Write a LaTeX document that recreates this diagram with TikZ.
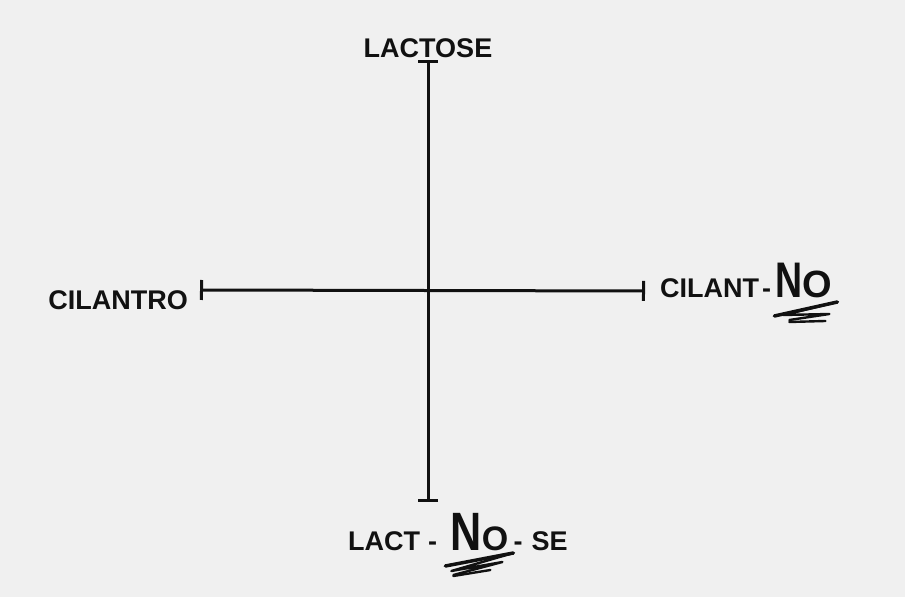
\documentclass[tikz,border=0pt]{standalone}
\usepackage{fontspec}
\setmainfont{Liberation Sans}
\usetikzlibrary{positioning,arrows.meta,calc}
\definecolor{paper}{HTML}{F0F0F0}
\definecolor{ink}{HTML}{111111}

\begin{document}
\begin{tikzpicture}[x=1pt,y=1pt,
  axis/.style={ink,line width=3pt,{Bar[width=20pt,line width=3pt]}-{Bar[width=20pt,line width=3pt]}},
  lbl/.style={ink,inner sep=0pt,font=\bfseries\fontsize{27}{32}\selectfont},
  scrib/.style={ink,line cap=round,line join=round}]
  \fill[paper] (0,0) rectangle (905,597);
  \useasboundingbox (0,0) rectangle (905,597);
  % ends of the two axes
  \coordinate (top) at (428,537);
  \coordinate (bot) at (428,95);
  \coordinate (lft) at (200,307);
  \coordinate (rgt) at (645,306);
  \draw[axis] (top) -- (bot);
  \draw[axis] (lft) -- (rgt);
  % labels
  \node[lbl,anchor=base] (lac) at (428,539) {LACTOSE};
  \node[lbl,anchor=base east] (cil) at (188,287) {CILANTRO};
  \node[lbl,anchor=base west] (cilno) at (660,299) {CILANT\hspace{3pt}-};
  \node[lbl,base right=4pt of cilno] (rno) {{\fontsize{50}{54}\selectfont\scalebox{0.75}[1]{N}}{\fontsize{38}{40}\selectfont O}};
  \node[lbl,anchor=base west] (lact) at (348,46) {LACT\hspace{8pt}-};
  \node[lbl,base right=13pt of lact] (bno) {{\fontsize{54}{58}\selectfont\scalebox{0.8}[1]{N}}{\fontsize{34}{40}\selectfont O}};
  \node[lbl,base right=5pt of bno] (se) {-\hspace{9pt}SE};
  % scribbled underlines
  \begin{scope}[shift={(rno.base west)}]
    \draw[scrib,line width=3.5pt] (-1,-18) -- (62,-4);
    \draw[scrib,line width=2.4pt] (62,-4) -- (8,-17) -- (54,-16) -- (14,-22);
    \draw[scrib,line width=2.4pt] (14,-24) -- (50,-23);
  \end{scope}
  \begin{scope}[shift={(bno.base west)}]
    \draw[scrib,line width=3.5pt] (-5,-15) -- (63,-2);
    \draw[scrib,line width=2.4pt] (63,-2) -- (1,-20) -- (52,-11) -- (3,-24);
    \draw[scrib,line width=2.4pt] (3,-25) -- (40,-19);
  \end{scope}
\end{tikzpicture}
\end{document}
